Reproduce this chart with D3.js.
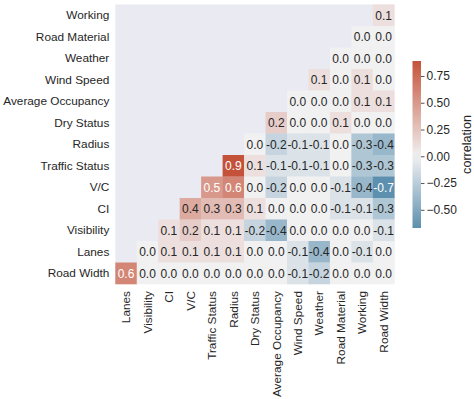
<!DOCTYPE html>
<html>
<head>
<meta charset="utf-8">
<script src="https://cdn.jsdelivr.net/npm/d3@7"></script>
<style>
  body { margin: 0; background: #fff; }
  text { font-family: "Liberation Sans", Arial, sans-serif; fill: #262626; }
</style>
</head>
<body>
<div class="chart"></div>
<script>
// row labels top -> bottom, column labels left -> right
const rowLabels = ['Working', 'Road Material', 'Weather', 'Wind Speed', 'Average Occupancy', 'Dry Status',
  'Radius', 'Traffic Status', 'V/C', 'CI', 'Visibility', 'Lanes', 'Road Width']
const colLabels = ['Lanes', 'Visibility', 'CI', 'V/C', 'Traffic Status', 'Radius', 'Dry Status',
  'Average Occupancy', 'Wind Speed', 'Weather', 'Road Material', 'Working', 'Road Width']

// each row only keeps its right-most cells (the rest is masked)
const values = [
  [0.1],
  [0.0, 0.0],
  [0.0, 0.0, 0.0],
  [0.1, 0.0, 0.1, 0.0],
  [0.0, 0.0, 0.0, 0.1, 0.1],
  [0.2, 0.0, 0.0, 0.1, 0.0, 0.0],
  [0.0, -0.2, -0.1, -0.1, 0.0, -0.3, -0.4],
  [0.89, 0.1, -0.1, -0.1, -0.1, 0.0, -0.3, -0.3],
  [0.5, 0.6, 0.0, -0.2, 0.0, 0.0, -0.1, -0.4, -0.67],
  [0.4, 0.3, 0.3, 0.1, 0.0, 0.0, 0.0, -0.1, -0.1, -0.3],
  [0.1, 0.2, 0.1, 0.1, -0.2, -0.4, 0.0, 0.0, 0.0, 0.0, -0.1],
  [0.0, 0.1, 0.1, 0.1, 0.1, 0.0, 0.0, -0.1, -0.4, 0.0, -0.1, 0.0],
  [0.6, 0.0, 0.0, 0.0, 0.0, 0.0, 0.0, 0.0, -0.1, -0.2, 0.0, 0.0, 0.0]
]
const cbTicks = [-0.5, -0.25, 0, 0.25, 0.5, 0.75]

const width = 474, height = 399
const hm = { left: 115.3, top: 4.5, right: 394.3, bottom: 284 }

const cells = []
values.forEach((row, i) => {
  const offset = colLabels.length - row.length
  row.forEach((v, j) => cells.push({ row: rowLabels[i], col: colLabels[offset + j], v: v }))
})

const vmin = d3.min(cells, d => d.v), vmax = d3.max(cells, d => d.v)
const vrange = Math.max(-vmin, vmax)

const color = d3.scaleLinear()
  .domain([-vrange, 0, vrange])
  .range(['#2c7098', '#f1f1f2', '#c4523a'])
  .interpolate(d3.interpolateRgb)
  .clamp(true)

const x = d3.scaleBand().domain(colLabels).range([hm.left, hm.right])
const y = d3.scaleBand().domain(rowLabels).range([hm.top, hm.bottom])

const svg = d3.select('.chart')
  .append('svg')
  .attr('width', width)
  .attr('height', height)

// axes background (seaborn darkgrid)
svg.append('rect')
  .attr('x', hm.left).attr('y', hm.top)
  .attr('width', hm.right - hm.left).attr('height', hm.bottom - hm.top)
  .attr('fill', '#eaeaf2')

const lum = c => {
  const rgb = d3.rgb(c)
  const f = u => { u /= 255; return u <= 0.03928 ? u / 12.92 : Math.pow((u + 0.055) / 1.055, 2.4) }
  return 0.2126 * f(rgb.r) + 0.7152 * f(rgb.g) + 0.0722 * f(rgb.b)
}

svg.selectAll('rect.cell')
  .data(cells)
  .join('rect')
  .attr('class', 'cell')
  .attr('x', d => x(d.col))
  .attr('y', d => y(d.row))
  .attr('width', x.bandwidth() + 0.3)
  .attr('height', y.bandwidth() + 0.3)
  .attr('fill', d => color(d.v))

svg.selectAll('text.annot')
  .data(cells)
  .join('text')
  .attr('class', 'annot')
  .attr('x', d => x(d.col) + x.bandwidth() / 2)
  .attr('y', d => y(d.row) + y.bandwidth() / 2)
  .attr('dy', '0.36em')
  .attr('text-anchor', 'middle')
  .style('font-size', '12px')
  .style('fill', d => lum(color(d.v)) > 0.408 ? '#262626' : '#ffffff')
  .text(d => d.v.toFixed(1))

// y tick labels
svg.selectAll('text.ylab')
  .data(rowLabels)
  .join('text')
  .attr('class', 'ylab')
  .attr('x', hm.left - 6)
  .attr('y', d => y(d) + y.bandwidth() / 2)
  .attr('dy', '0.36em')
  .attr('text-anchor', 'end')
  .style('font-size', '11.8px')
  .text(d => d)

// x tick labels (rotated)
svg.selectAll('text.xlab')
  .data(colLabels)
  .join('text')
  .attr('class', 'xlab')
  .attr('transform', d => 'translate(' + (x(d) + x.bandwidth() / 2) + ',' + (hm.bottom + 7) + ') rotate(-90)')
  .attr('dy', '0.36em')
  .attr('text-anchor', 'end')
  .style('font-size', '11.8px')
  .text(d => d)

// colorbar
const cb = { x: 412.5, w: 8.5, top: 61, bottom: 228 }
const cbScale = d3.scaleLinear().domain([vmin, vmax]).range([cb.bottom, cb.top])

const grad = svg.append('defs').append('linearGradient')
  .attr('id', 'cbgrad')
  .attr('x1', 0).attr('y1', 1).attr('x2', 0).attr('y2', 0)
grad.selectAll('stop')
  .data(d3.range(0, 1.0001, 0.05))
  .join('stop')
  .attr('offset', d => d)
  .attr('stop-color', d => color(vmin + d * (vmax - vmin)))

svg.append('rect')
  .attr('x', cb.x).attr('y', cb.top)
  .attr('width', cb.w).attr('height', cb.bottom - cb.top)
  .attr('fill', 'url(#cbgrad)')

const cbAxis = d3.axisRight(cbScale)
  .tickValues(cbTicks)
  .tickFormat(d3.format('.2f'))
  .tickSize(3.5)
  .tickPadding(2)

const cbg = svg.append('g')
  .attr('transform', 'translate(' + (cb.x + cb.w) + ',0)')
  .call(cbAxis)
cbg.select('.domain').remove()
cbg.selectAll('line').attr('stroke', '#262626').attr('stroke-width', 0.8)
cbg.selectAll('text')
  .style('font-size', '12px')
  .style('font-family', '"Liberation Sans", Arial, sans-serif')
  .attr('fill', '#262626')

svg.append('text')
  .attr('transform', 'translate(466,' + ((cb.top + cb.bottom) / 2) + ') rotate(-90)')
  .attr('text-anchor', 'middle')
  .attr('dy', '0.36em')
  .style('font-size', '12.6px')
  .text('correlation')
</script>
</body>
</html>
